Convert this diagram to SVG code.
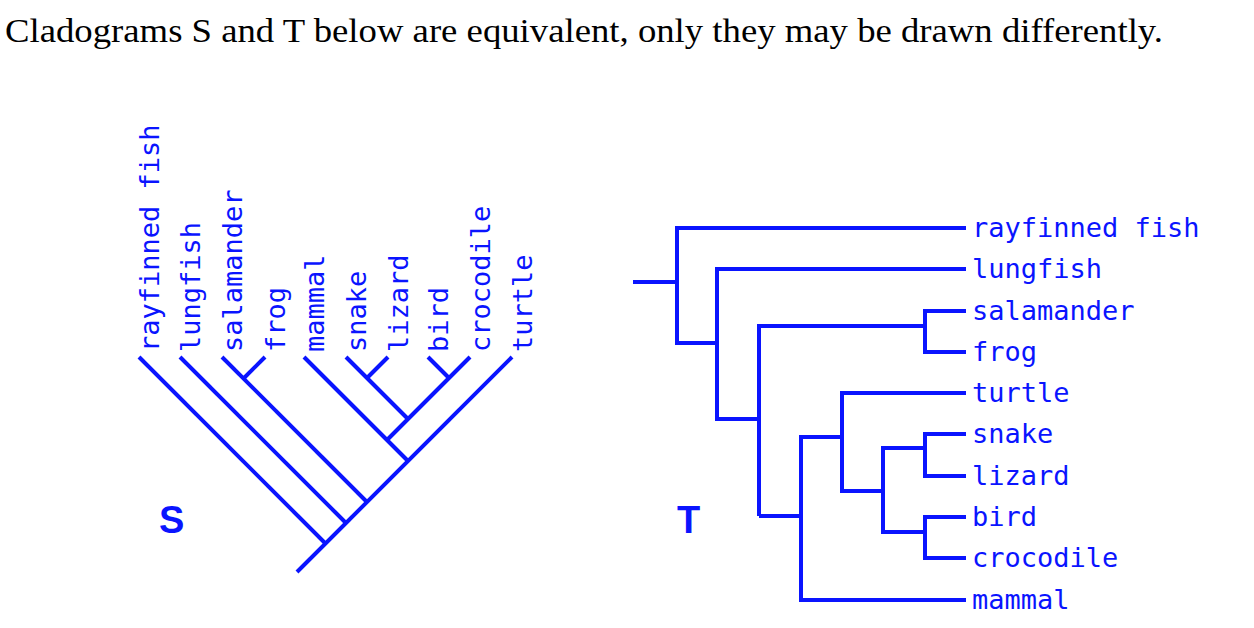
<svg xmlns="http://www.w3.org/2000/svg" width="1254" height="628" viewBox="0 0 1254 628">
<style>
.l{stroke:#0a14ff;stroke-width:4;fill:none;stroke-linecap:butt}
.t{font-family:"DejaVu Sans Mono",monospace;font-size:27px;fill:#0a14ff}
.b{font-family:"Liberation Sans",Arial,sans-serif;font-weight:bold;font-size:38px;fill:#0a14ff}
</style>
<rect width="1254" height="628" fill="#fff"/>
<text x="5" y="42" font-family="Liberation Serif,serif" font-size="33" textLength="1158" lengthAdjust="spacingAndGlyphs" fill="#000">Cladograms S and T below are equivalent, only they may be drawn differently.</text>
<g id="connectors">
<g id="S-lines" class="l">
<path d="M297,572 L512,357"/>
<path d="M139,357 L325.5,543.5"/>
<path d="M180,357 L346,523"/>
<path d="M222,357 L367,502"/>
<path d="M265,357 L243.5,378.5"/>
<path d="M304,357 L408,461"/>
<path d="M387,440 L470,357"/>
<path d="M346,357 L408,419"/>
<path d="M388,357 L367,378"/>
<path d="M428,357 L449,378"/>
</g>
<g id="T-lines" class="l">
<path d="M633,282 H677"/>
<path d="M966,228 H677 V343 H717"/>
<path d="M966,269 H717 V419 H759"/>
<path d="M759,516 V326 H925"/>
<path d="M966,311 H925 V352 H966"/>
<path d="M759,516 H801"/>
<path d="M966,600 H801 V437 H842"/>
<path d="M966,393 H842 V491 H883"/>
<path d="M925,532 H883 V448 H925"/>
<path d="M966,434 H925 V476 H966"/>
<path d="M966,517 H925 V558 H966"/>
</g>
</g>
<g id="S-labels" class="t">
<text transform="translate(159,352) rotate(-90)">rayfinned fish</text>
<text transform="translate(200,352) rotate(-90)">lungfish</text>
<text transform="translate(242,352) rotate(-90)">salamander</text>
<text transform="translate(285,352) rotate(-90)">frog</text>
<text transform="translate(324,352) rotate(-90)">mammal</text>
<text transform="translate(366,352) rotate(-90)">snake</text>
<text transform="translate(408,352) rotate(-90)">lizard</text>
<text transform="translate(448,352) rotate(-90)">bird</text>
<text transform="translate(490,352) rotate(-90)">crocodile</text>
<text transform="translate(532,352) rotate(-90)">turtle</text>
</g>
<g id="T-labels" class="t">
<text x="972" y="237">rayfinned fish</text>
<text x="972" y="278">lungfish</text>
<text x="972" y="320">salamander</text>
<text x="972" y="361">frog</text>
<text x="972" y="402">turtle</text>
<text x="972" y="443">snake</text>
<text x="972" y="485">lizard</text>
<text x="972" y="526">bird</text>
<text x="972" y="567">crocodile</text>
<text x="972" y="609">mammal</text>
</g>
<g id="S-title"><text class="b" x="159" y="533">S</text></g>
<g id="T-title"><text class="b" x="677" y="533">T</text></g>
</svg>
